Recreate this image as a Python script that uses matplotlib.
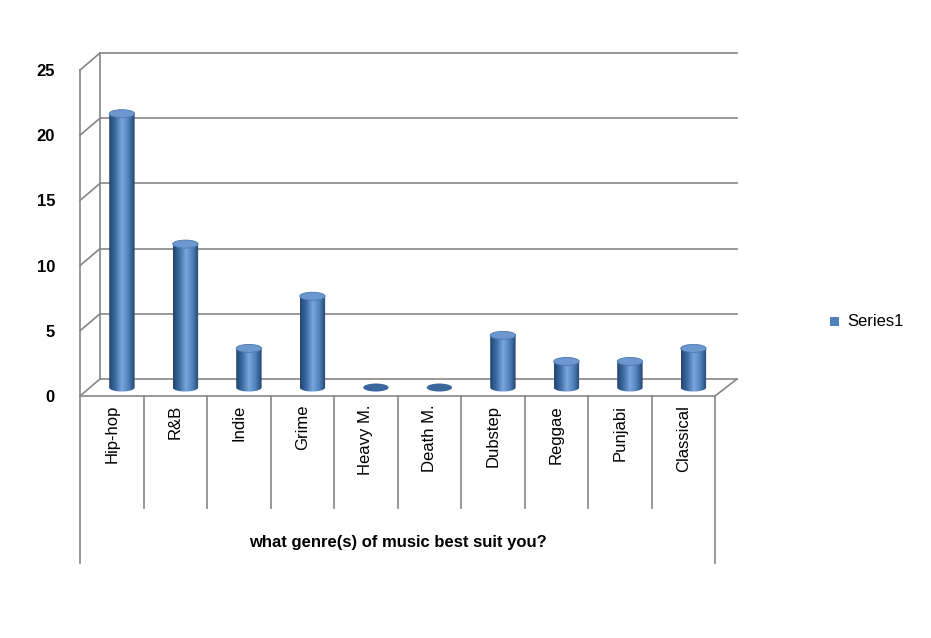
import numpy as np
import matplotlib
matplotlib.use("Agg")
import matplotlib.pyplot as plt
from matplotlib.patches import Ellipse, Polygon, Rectangle
from matplotlib.path import Path

categories = ["Hip-hop", "R&B", "Indie", "Grime", "Heavy M.", "Death M.", "Dubstep", "Reggae", "Punjabi", "Classical"]
values = [21, 11, 3, 7, 0, 0, 4, 2, 2, 3]
yticks = [0, 5, 10, 15, 20, 25]
axis_title = "what genre(s) of music best suit you?"
series_name = "Series1"

plt.rcParams['font.family'] = ['Liberation Sans', 'DejaVu Sans']
W, H = 931, 638
fig = plt.figure(figsize=(W/100, H/100), dpi=100)
ax = fig.add_axes([80/W, (H-396)/H, 635/W, 326/H])
ax.set_xlim(0, 10); ax.set_ylim(0, 25)
for s in ax.spines.values(): s.set_visible(False)
ax.set_xticks([])
ax.set_yticks(yticks)
ax.tick_params(axis='y', length=0, pad=18, labelsize=12)
for t in ax.get_yticklabels(): t.set_fontweight('bold')
ax.patch.set_alpha(0)

dx = 10/635; dy = 25/326
ox, oy = 20*dx, 17*dy
gc = '#868686'
kw = dict(color=gc, lw=1.2, clip_on=False)
xr = (737-80)*dx
for v in yticks:
    ax.plot([ox, xr], [v+oy, v+oy], **kw)
    ax.plot([0, ox], [v, v+oy], **kw)
ax.plot([0, 0], [0, 25], **kw)
ax.plot([ox, ox], [oy, 25+oy], **kw)
ax.plot([0, 10], [0, 0], **kw)
ax.plot([10, xr], [0, oy], **kw)
for i in range(11):
    bot = -12.8 if i in (0, 10) else -(508-396)*dy
    ax.plot([i, i], [0, bot], **kw)

for i, c in enumerate(categories):
    ax.text(i+0.5, -9*dy, c, rotation=90, ha='center', va='top', fontsize=12, clip_on=False)
ax.text(5, -(543-396)*dy, axis_title, ha='center', va='center', fontsize=12, fontweight='bold', clip_on=False)

# cylinders
cmap = matplotlib.colors.LinearSegmentedColormap.from_list('cyl', ['#23446b', '#3d6ca5', '#7aa6dc', '#4f81bd', '#23446b'])
grad = np.linspace(0, 1, 256).reshape(1, -1)
rx, ry = 0.2, 4*dy
for i, v in enumerate(values):
    cx = i + 0.5 + 0.16
    b = 0.65
    if v == 0:
        ax.add_patch(Ellipse((cx, b), 2*rx, 2*ry, facecolor='#3a679c', edgecolor='none', zorder=3))
        continue
    t = np.linspace(np.pi, 2*np.pi, 40)
    xs = list(cx + rx*np.cos(t)); ys = list(b + ry*np.sin(t))
    verts = [(cx-rx, b+v)] + list(zip(xs, ys)) + [(cx+rx, b+v)]
    poly = Polygon(verts, closed=True, facecolor='none', edgecolor='none')
    ax.add_patch(poly)
    im = ax.imshow(grad, cmap=cmap, aspect='auto', extent=[cx-rx, cx+rx, b-ry, b+v], zorder=3)
    im.set_clip_path(poly)
    ax.add_patch(Ellipse((cx, b+v), 2*rx, 2*ry, facecolor='#6d97cf', edgecolor='#4a77ad', lw=0.6, zorder=4))
ax.set_xlim(0, 10); ax.set_ylim(0, 25)

# legend
fig.patches.append(Rectangle((830/W, 1-326/H), 9/W, 9/H, transform=fig.transFigure, facecolor='#4f81bd', edgecolor='none'))
fig.text(847/W, 1-321/H, series_name, fontsize=12, va='center', ha='left')

fig.savefig('out.png', dpi=100)
